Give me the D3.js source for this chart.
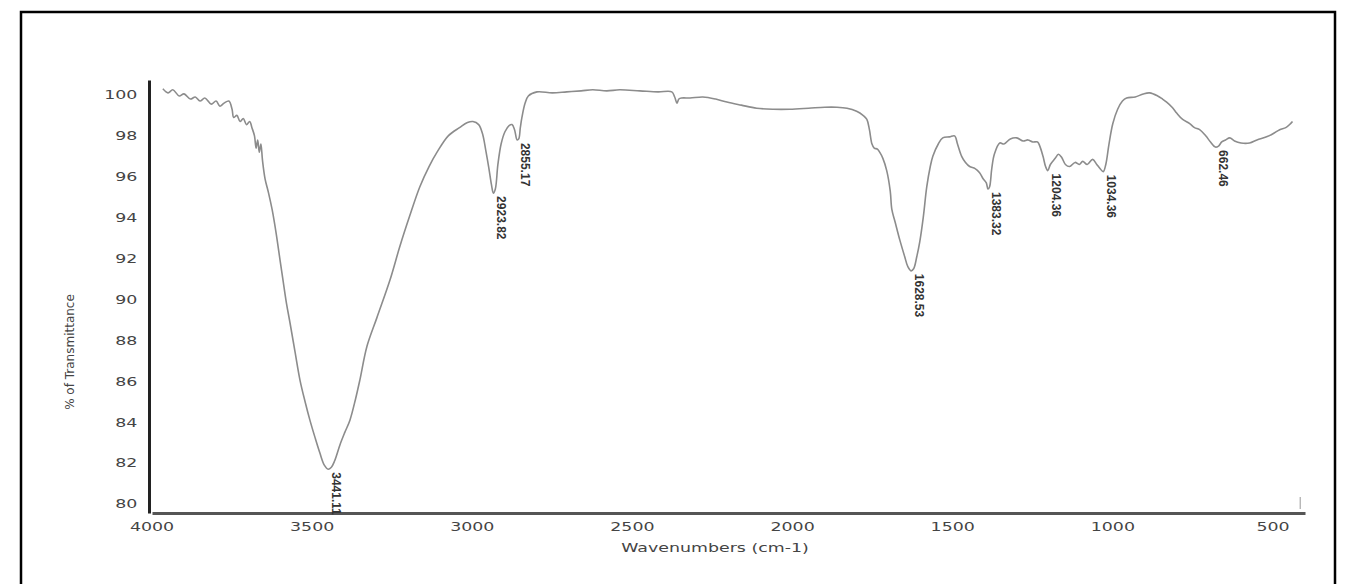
<!DOCTYPE html>
<html>
<head>
<meta charset="utf-8">
<script src="https://cdn.jsdelivr.net/npm/d3@7"></script>
<style>
  body { margin: 0; background: #fff; }
  svg { display: block; }
  .tick text { font-family: "DejaVu Sans", sans-serif; font-size: 12px; fill: #444; }
  .title { font-family: "DejaVu Sans", sans-serif; font-size: 12px; fill: #444; }
  .peak { font-family: "Liberation Sans", Arial, sans-serif; font-size: 12px; font-weight: bold; fill: #333; }
</style>
</head>
<body>
<svg id="fig" width="1356" height="584"></svg>
<script>
// FTIR spectrum (wavenumber cm-1, % transmittance)
const wavenumbers = [
    3966, 3950, 3935, 3915, 3900, 3880, 3865, 3850, 3835, 3815, 3800, 3788, 3775, 3760, 3750, 3745,
    3735, 3725, 3715, 3705, 3695, 3688, 3680, 3675, 3670, 3665, 3660, 3655, 3647, 3636, 3625, 3612,
    3600, 3591, 3580, 3569, 3553, 3538, 3522, 3507, 3490, 3476, 3462, 3450, 3440, 3430, 3413, 3398,
    3382, 3365, 3351, 3329, 3298, 3257, 3226, 3195, 3164, 3135, 3110, 3075, 3040, 3015, 2998, 2980,
    2968, 2958, 2948, 2940, 2934, 2928, 2920, 2910, 2898, 2885, 2876, 2868, 2860, 2855, 2850, 2845,
    2835, 2825, 2798, 2750, 2705, 2660, 2624, 2580, 2540, 2477, 2420, 2377, 2368, 2361, 2355, 2346,
    2320, 2280, 2240, 2205, 2160, 2112, 2060, 2009, 1950, 1900, 1862, 1830, 1800, 1780, 1768, 1760,
    1752, 1745, 1735, 1728, 1718, 1706, 1695, 1690, 1680, 1665, 1650, 1640, 1630, 1622, 1612, 1603,
    1592, 1581, 1570, 1562, 1545, 1531, 1510, 1494, 1485, 1472, 1460, 1447, 1430, 1416, 1405, 1395,
    1390, 1385, 1378, 1370, 1353, 1340, 1320, 1300, 1280, 1265, 1250, 1235, 1228, 1218, 1210, 1203,
    1195, 1180, 1170, 1160, 1148, 1135, 1118, 1105, 1094, 1080, 1063, 1050, 1040, 1030, 1022, 1012,
    1000, 985, 970, 957, 930, 905, 885, 860, 845, 832, 815, 800, 782, 760, 745, 729,
    710, 695, 680, 670, 660, 648, 635, 620, 600, 573, 550, 520, 500, 479, 460, 445, 439
];
const transmittance = [
    100.3, 100.1, 100.25, 99.95, 100.05, 99.8, 99.9, 99.7, 99.85, 99.55, 99.7, 99.45, 99.6, 99.7, 99.3, 98.9,
    99.0, 98.7, 98.85, 98.55, 98.7, 98.4, 98.0, 97.4, 97.8, 97.2, 97.6, 96.8, 95.9, 95.2, 94.4, 93.2,
    91.9, 90.95, 89.8, 88.85, 87.4, 86.06, 85.0, 84.1, 83.2, 82.5, 81.9, 81.7, 81.8, 82.1, 82.9, 83.5,
    84.1, 85.1, 86.06, 87.7, 89.1, 90.95, 92.6, 94.1, 95.5, 96.5, 97.2, 98.0, 98.4, 98.65, 98.7, 98.55,
    98.1, 97.3, 96.4, 95.6, 95.2, 95.4, 96.6, 97.6, 98.2, 98.5, 98.55, 98.3, 97.8, 97.85, 98.4, 98.9,
    99.6, 99.95, 100.15, 100.1, 100.15, 100.2, 100.25, 100.2, 100.25, 100.2, 100.15, 100.15, 99.9, 99.6, 99.8, 99.85,
    99.85, 99.9, 99.8, 99.65, 99.5, 99.35, 99.3, 99.3, 99.35, 99.4, 99.4, 99.35, 99.2, 99.0, 98.8, 98.3,
    97.6, 97.4, 97.35, 97.2, 96.9, 96.3, 95.3, 94.4, 93.8, 92.9, 92.1, 91.6, 91.4, 91.5, 92.1, 92.8,
    94.0, 95.5, 96.5, 97.0, 97.6, 97.9, 97.95, 98.0, 97.6, 97.0, 96.7, 96.5, 96.4, 96.2, 95.9, 95.7,
    95.4, 95.5, 96.4, 97.1, 97.65, 97.6, 97.85, 97.9, 97.75, 97.8, 97.7, 97.7, 97.5, 97.0, 96.5, 96.3,
    96.6, 96.9, 97.1, 96.95, 96.6, 96.5, 96.7, 96.6, 96.75, 96.6, 96.85, 96.6, 96.4, 96.25, 96.6, 97.6,
    98.6, 99.3, 99.7, 99.85, 99.9, 100.05, 100.1, 99.95, 99.8, 99.65, 99.4, 99.1, 98.8, 98.6, 98.4, 98.3,
    98.0, 97.7, 97.45, 97.5, 97.7, 97.8, 97.9, 97.75, 97.65, 97.65, 97.8, 97.95, 98.1, 98.3, 98.4, 98.6, 98.7
];
const peakLabels = ["3441.11", "2923.82", "2855.17", "1628.53", "1383.32", "1204.36", "1034.36", "662.46"];
const xTicks = [4000, 3500, 3000, 2500, 2000, 1500, 1000, 500];
const yTicks = [80, 82, 84, 86, 88, 90, 92, 94, 96, 98, 100];

const data = wavenumbers.map((w, i) => ({ w: w, t: transmittance[i] }));

const Fig = d3.select("#fig");

// outer frame
Fig.append("rect")
    .attr("x", 21).attr("y", 12)
    .attr("width", 1314).attr("height", 600)
    .attr("fill", "none")
    .attr("stroke", "#000")
    .attr("stroke-width", 2.5);

const xScale = d3.scaleLinear().domain([4000, 400]).range([152, 1305]);
const yScale = d3.scaleLinear().domain([79.56, 100.73]).range([513, 80]);

// spectrum
const line = d3.line().x(d => xScale(d.w)).y(d => yScale(d.t)).curve(d3.curveCatmullRom.alpha(0.5));
Fig.append("path")
    .datum(data)
    .attr("d", line)
    .attr("fill", "none")
    .attr("stroke", "#8c8c8c")
    .attr("stroke-width", 1.6);

// X Axis
const xAxis = Fig.append("g")
    .attr("transform", `translate(0,${513})`)
    .call(d3.axisBottom(xScale).tickValues(xTicks).tickSize(0).tickPadding(9).tickFormat(d3.format("d")));
xAxis.select(".domain").attr("stroke", "#555").attr("stroke-width", 3);
xAxis.selectAll("text").attr("transform", "scale(1.45,1)").attr("x", function (d) { return 0; });
xAxis.selectAll(".tick").attr("transform", d => `translate(${xScale(d)},0)`);

// Y Axis
const yAxis = Fig.append("g")
    .attr("transform", `translate(${149},0)`)
    .call(d3.axisLeft(yScale).tickValues(yTicks).tickSize(0).tickPadding(8));
yAxis.select(".domain").attr("stroke", "#222").attr("stroke-width", 3);
yAxis.selectAll("text").attr("transform", "scale(1.45,1)");

// small end mark
Fig.append("line")
    .attr("x1", xScale(415)).attr("x2", xScale(415))
    .attr("y1", 497).attr("y2", 509)
    .attr("stroke", "#999").attr("stroke-width", 1);

// Labels
Fig.append("text")
    .attr("class", "title")
    .attr("transform", `translate(${715},${552}) scale(1.45,1)`)
    .attr("text-anchor", "middle")
    .text("Wavenumbers (cm-1)");

Fig.append("text")
    .attr("class", "title")
    .attr("transform", `translate(${74},${352}) rotate(270)`)
    .attr("text-anchor", "middle")
    .text("% of Transmittance");

// peak labels, placed under the lowest point near each wavenumber
peakLabels.forEach(lab => {
    const v = +lab;
    const near = data.filter(d => Math.abs(d.w - v) <= 30);
    const dip = near.reduce((a, b) => (b.t < a.t ? b : a));
    Fig.append("text")
        .attr("class", "peak")
        .attr("transform", `translate(${xScale(dip.w) + 8},${yScale(dip.t) + 3}) rotate(90)`)
        .attr("dy", "0.35em")
        .text(lab);
});
</script>
</body>
</html>
